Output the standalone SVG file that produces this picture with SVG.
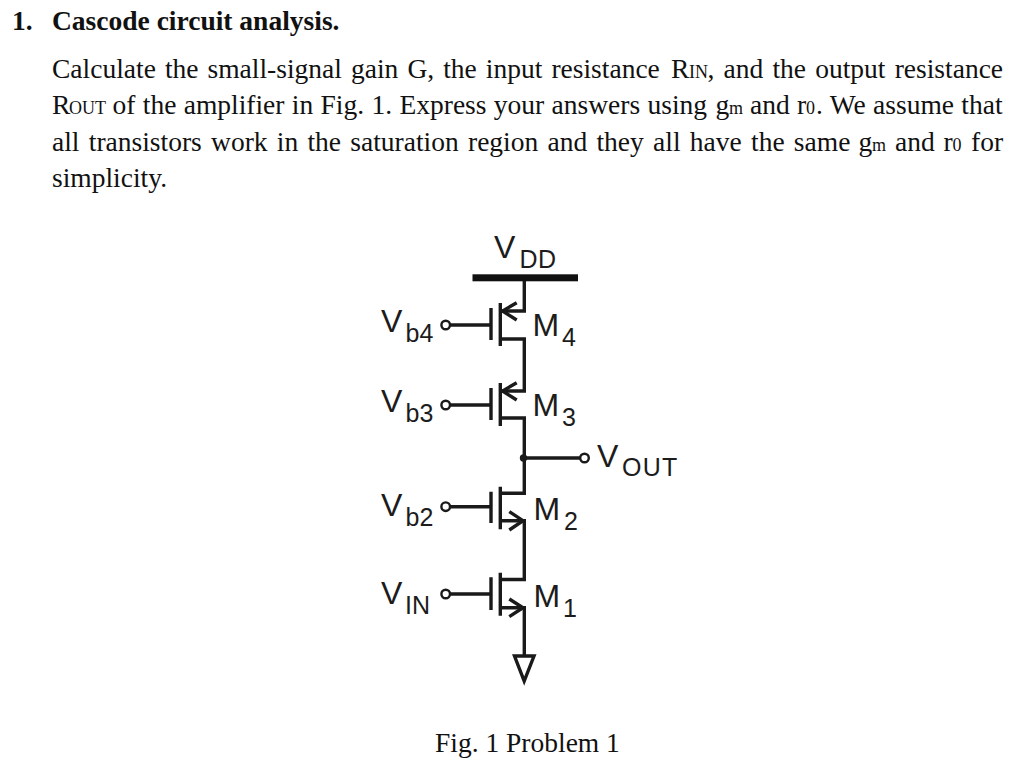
<svg xmlns="http://www.w3.org/2000/svg" width="1024" height="767" viewBox="0 0 1024 767">
<style>
.t{font-family:"Liberation Serif","Times New Roman",serif;font-size:27.5px;fill:#111}
.b{font-weight:bold}
.s{font-size:18px}
.l{font-family:"Liberation Sans",Arial,sans-serif;font-size:32px;fill:#1c1c1c}
.u{font-family:"Liberation Sans",Arial,sans-serif;font-size:25px;fill:#1c1c1c}
.w{fill:none;stroke:#1a1a1a;stroke-width:3.4;stroke-linecap:butt;stroke-linejoin:miter}
.c{fill:#fff;stroke:#1a1a1a;stroke-width:2.4}
</style>
<g id="text">
<text class="t b" x="12" y="30">1.</text>
<text class="t b" x="52" y="30">Cascode circuit analysis.</text>
<text class="t" x="52" y="77.5" word-spacing="2.17">Calculate the small-signal gain G, the input resistance</text>
<text class="t" x="671" y="77.5">R</text><text class="t s" x="689" y="77.5">IN</text>
<text class="t" x="707.5" y="77.5" word-spacing="2.3">, and the output resistance</text>
<text class="t" x="52" y="114">R</text><text class="t s" x="69" y="114">OUT</text>
<text class="t" x="112.5" y="114" word-spacing="0.47">of the amplifier in Fig. 1. Express your answers using</text>
<text class="t" x="715.5" y="114">g</text><text class="t s" x="729" y="114">m</text>
<text class="t" x="750" y="114">and</text>
<text class="t" x="797" y="114">r</text><text class="t s" x="806" y="114">0</text>
<text class="t" x="816" y="114" word-spacing="0.47">. We assume that</text>
<text class="t" x="52" y="150.5" word-spacing="2.38">all transistors work in the saturation region and they all have the same</text>
<text class="t" x="858.5" y="150.5">g</text><text class="t s" x="872" y="150.5">m</text>
<text class="t" x="895" y="150.5">and</text>
<text class="t" x="943.5" y="150.5">r</text><text class="t s" x="952.5" y="150.5">0</text>
<text class="t" x="971" y="150.5">for</text>
<text class="t" x="52" y="186.5">simplicity.</text>
<text class="t" x="435" y="752">Fig. 1 Problem 1</text>
</g>
<g id="connectors">
<path class="w" d="M524.3 280V311H501M500.5 339H524.3V391H501"/>
<path class="w" d="M500.5 418H524.3V493.3H501"/>
<path class="w" d="M500.5 520.7H524.3V579.5H501"/>
<path class="w" d="M500.5 607.7H524.3V656"/>
<path class="w" d="M524 458H580"/>
<path class="w" d="M450 325H491M450 405H491M450 506.7H491M450 594H491"/>
</g>
<g id="vdd"><rect x="472.5" y="274.3" width="105.5" height="7" fill="#111"/><text class="l" x="494" y="258">V</text><text class="u" x="519.5" y="268" letter-spacing="0.5">DD</text></g>
<g id="m4"><path class="w" d="M491 308V340M500.3 303V346M516.7 302.7L502.5 311L516.7 320"/><circle class="c" cx="445.7" cy="325" r="4.3"/><text class="l" x="381" y="332">V</text><text class="u" x="405.5" y="342">b4</text><text class="l" x="532.5" y="336">M</text><text class="u" x="562" y="346">4</text></g>
<g id="m3"><path class="w" d="M491 388V420M500.3 383V426M516.7 382.7L502.5 391L516.7 400"/><circle class="c" cx="445.7" cy="405" r="4.3"/><text class="l" x="381" y="412">V</text><text class="u" x="405.5" y="422">b3</text><text class="l" x="532.5" y="416">M</text><text class="u" x="562" y="426">3</text></g>
<g id="vout"><circle cx="523.5" cy="458" r="3.7" fill="#1a1a1a"/><circle class="c" cx="584.5" cy="458" r="4.3"/><text class="l" x="597" y="467">V</text><text class="u" x="622" y="476" letter-spacing="1.3">OUT</text></g>
<g id="m2"><path class="w" d="M491 491.7V523M500.3 486.7V529.3M509.3 511.7L523 520.7L509.3 530"/><circle class="c" cx="445.7" cy="506.7" r="4.3"/><text class="l" x="381" y="516">V</text><text class="u" x="405.5" y="526">b2</text><text class="l" x="533.5" y="520">M</text><text class="u" x="564" y="530">2</text></g>
<g id="m1"><path class="w" d="M491 577.3V610M500.3 572.7V615.7M509.3 599L523 607.7L509.3 616.7"/><circle class="c" cx="445.7" cy="594" r="4.3"/><text class="l" x="381" y="603.5">V</text><text class="u" x="405" y="613.5">IN</text><text class="l" x="533.5" y="607">M</text><text class="u" x="563" y="617">1</text></g>
<g id="ground"><path class="w" d="M514.5 656H534L524.2 681Z"/></g>
</svg>
